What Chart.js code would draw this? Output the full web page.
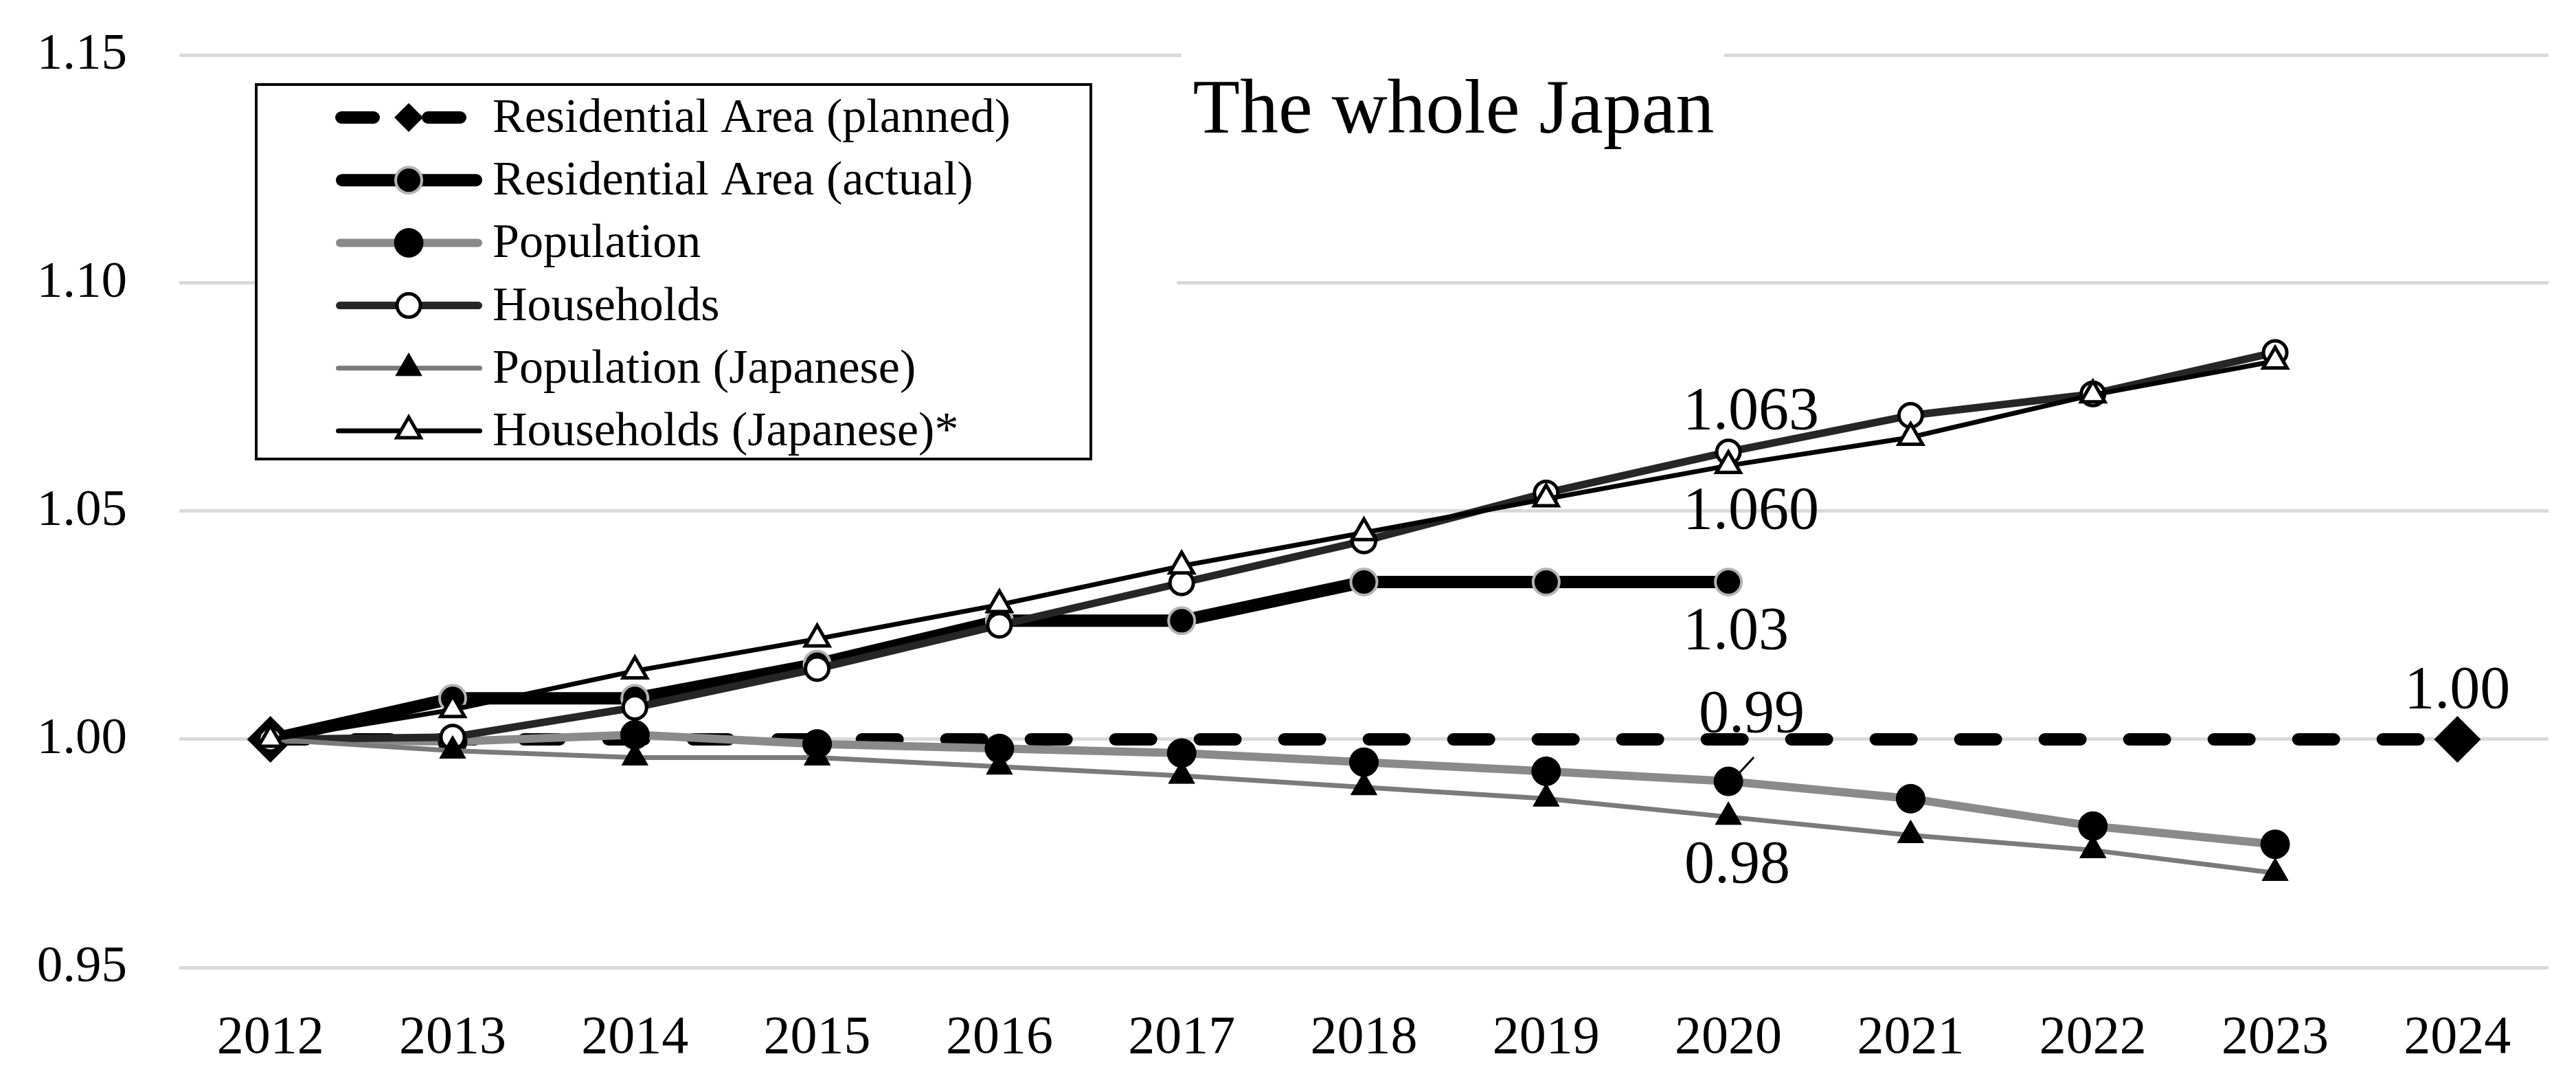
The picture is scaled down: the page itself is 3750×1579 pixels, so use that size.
<!DOCTYPE html>
<html><head><meta charset="utf-8">
<script src="https://cdn.jsdelivr.net/npm/chart.js@4/dist/chart.umd.min.js"></script>
<style>html,body{margin:0;padding:0;background:#fff;}#wrap{width:3750px;height:1579px;}</style>
</head><body><div id="wrap"><canvas id="c" width="3750" height="1579"></canvas></div>
<script>
// ---------- DATA ----------
const years = ['2012','2013','2014','2015','2016','2017','2018','2019','2020','2021','2022','2023','2024'];
const residentialPlanned = [1.000, null, null, null, null, null, null, null, null, null, null, null, 1.000];
const residentialActual  = [1.000, 1.009, 1.009, 1.0165, 1.026, 1.026, 1.0345, 1.0345, 1.0345, null, null, null, null];
const population         = [1.000, 0.9995, 1.001, 0.999, 0.998, 0.997, 0.995, 0.993, 0.9908, 0.987, 0.981, 0.977, null];
const households         = [1.000, 1.0005, 1.007, 1.0155, 1.025, 1.0343, 1.0435, 1.054, 1.063, 1.071, 1.0757, 1.0848, null];
const populationJapanese = [1.000, 0.9975, 0.996, 0.996, 0.994, 0.992, 0.9895, 0.987, 0.983, 0.979, 0.9757, 0.9707, null];
const householdsJapanese = [1.000, 1.0065, 1.015, 1.022, 1.0295, 1.038, 1.0453, 1.0527, 1.060, 1.0662, 1.0755, 1.0829, null];
const yTicks = [0.95, 1.00, 1.05, 1.10, 1.15];
const seriesNames = ['Residential Area (planned)', 'Residential Area (actual)', 'Population', 'Households', 'Population (Japanese)', 'Households (Japanese)*'];
const chartTitle = 'The whole Japan';
const valueLabelTexts  = ['1.063', '1.060', '1.03', '0.99', '0.98', '1.00'];
const valueLabelSeries = [3, 5, 1, 2, 4, 0];
const valueLabelYear   = ['2020', '2020', '2020', '2020', '2020', '2024'];

// ---------- STYLE ----------
const FONT = "'Liberation Serif','Times New Roman',serif";
Chart.defaults.font.family = FONT;
Chart.defaults.color = '#000';

// label placement offsets (style only)
const labelPlace = [
  {dx:-66, dy:-34, align:'left'},
  {dx:-66, dy:91, align:'left'},
  {dx:-66, dy:97, align:'left'},
  {dx:-43, dy:-72, align:'left'},
  {dx:-64, dy:95, align:'left'},
  {dx:0, dy:-46, align:'center'}
];

const annotPlugin = {
  id: 'valueLabels',
  afterDatasetsDraw(chart) {
    const ctx = chart.ctx, xs = chart.scales.x, ys = chart.scales.y;
    ctx.save();
    ctx.fillStyle = '#000';
    ctx.font = '88px ' + FONT;
    ctx.textBaseline = 'alphabetic';
    valueLabelTexts.forEach((t, i) => {
      const idx = years.indexOf(valueLabelYear[i]);
      const ds = chart.data.datasets[valueLabelSeries[i]];
      const px = xs.getPixelForValue(idx);
      const py = ys.getPixelForValue(ds.data[idx]);
      const p = labelPlace[i];
      ctx.textAlign = p.align;
      ctx.fillText(t, px + p.dx, py + p.dy);
      if (t === '0.99') {
        ctx.strokeStyle = '#000'; ctx.lineWidth = 3;
        ctx.beginPath(); ctx.moveTo(px + 37, py - 35); ctx.lineTo(px + 13, py - 9); ctx.stroke();
      }
    });
    ctx.restore();
  }
};

const titlePlugin = {
  id: 'boxTitle',
  afterDraw(chart) {
    const ctx = chart.ctx;
    ctx.save();
    ctx.fillStyle = '#fff';
    ctx.fillRect(1720, 40, 790, 200);
    ctx.fillStyle = '#000';
    ctx.font = '112px ' + FONT;
    ctx.textAlign = 'center';
    ctx.textBaseline = 'alphabetic';
    ctx.fillText(chartTitle, 2116, 193);
    ctx.restore();
  }
};

function legendMarker(ctx, style, x, y, r) {
  ctx.beginPath();
  if (style === 'circle') {
    ctx.arc(x, y, r, 0, Math.PI * 2);
  } else if (style === 'triangle') {
    ctx.moveTo(x, y - r);
    ctx.lineTo(x + 0.866 * r, y + 0.5 * r);
    ctx.lineTo(x - 0.866 * r, y + 0.5 * r);
  } else if (style === 'rectRot') {
    ctx.moveTo(x, y - r); ctx.lineTo(x + r, y); ctx.lineTo(x, y + r); ctx.lineTo(x - r, y);
  }
  ctx.closePath();
}

const legendPlugin = {
  id: 'boxLegend',
  afterDraw(chart) {
    const ctx = chart.ctx;
    ctx.save();
    ctx.fillStyle = '#fff';
    ctx.fillRect(373, 123, 1340, 545);
    ctx.lineWidth = 4; ctx.strokeStyle = '#000';
    ctx.strokeRect(373, 123, 1215, 545);
    const rowY0 = 171, dy = 91.2, mx = 595;
    chart.data.datasets.forEach((ds, i) => {
      const y = rowY0 + i * dy;
      ctx.save();
      ctx.strokeStyle = ds.borderColor; ctx.lineWidth = ds.borderWidth; ctx.lineCap = 'round';
      ctx.beginPath();
      if (ds.borderDash) {
        ctx.setLineDash([47, 79]);
        ctx.moveTo(497, y); ctx.lineTo(680, y);
      } else {
        ctx.moveTo(489 + ds.borderWidth / 2, y); ctx.lineTo(702 - ds.borderWidth / 2, y);
      }
      ctx.stroke();
      ctx.restore();
      ctx.save();
      const r = ds.pointStyle === 'rectRot' ? 21 : ds.pointRadius;
      legendMarker(ctx, ds.pointStyle, mx, y, r);
      ctx.fillStyle = ds.pointBackgroundColor; ctx.fill();
      if (ds.pointBorderWidth > 0) { ctx.lineWidth = ds.pointBorderWidth; ctx.strokeStyle = ds.pointBorderColor; ctx.stroke(); }
      ctx.restore();
      ctx.fillStyle = '#000';
      ctx.font = '70px ' + FONT;
      ctx.textAlign = 'left'; ctx.textBaseline = 'alphabetic';
      ctx.fillText(ds.label, 717, y + 21);
    });
    ctx.restore();
  }
};

const ctx = document.getElementById('c').getContext('2d');
new Chart(ctx, {
  type: 'line',
  data: {
    labels: years,
    datasets: [
      {label: seriesNames[0], data: residentialPlanned, borderColor: '#000', borderWidth: 18, borderDash: [52, 71], borderCapStyle: 'round', spanGaps: true,
       pointStyle: 'rectRot', pointRadius: 34, pointBackgroundColor: '#000', pointBorderColor: '#000', pointBorderWidth: 0, order: 6},
      {label: seriesNames[1], data: residentialActual, borderColor: '#000', borderWidth: 18, borderCapStyle: 'round',
       pointStyle: 'circle', pointRadius: 19, pointBackgroundColor: '#000', pointBorderColor: '#b4b4b4', pointBorderWidth: 4, order: 5},
      {label: seriesNames[2], data: population, borderColor: '#8a8a8a', borderWidth: 12,
       pointStyle: 'circle', pointRadius: 21, pointBackgroundColor: '#000', pointBorderColor: '#000', pointBorderWidth: 1, order: 4},
      {label: seriesNames[3], data: households, borderColor: '#262626', borderWidth: 11,
       pointStyle: 'circle', pointRadius: 17, pointBackgroundColor: '#fff', pointBorderColor: '#000', pointBorderWidth: 5, order: 3},
      {label: seriesNames[4], data: populationJapanese, borderColor: '#7a7a7a', borderWidth: 7,
       pointStyle: 'triangle', pointRadius: 22, pointBackgroundColor: '#000', pointBorderColor: '#000', pointBorderWidth: 1, order: 2},
      {label: seriesNames[5], data: householdsJapanese, borderColor: '#000', borderWidth: 7,
       pointStyle: 'triangle', pointRadius: 20, pointBackgroundColor: '#fff', pointBorderColor: '#000', pointBorderWidth: 5, order: 1}
    ]
  },
  options: {
    responsive: false, animation: false, devicePixelRatio: 1,
    layout: {padding: {left: 0, right: 40, top: 80, bottom: 0}},
    plugins: {legend: {display: false}, tooltip: {enabled: false}, title: {display: false}},
    elements: {line: {tension: 0, borderJoinStyle: 'round'}},
    scales: {
      x: {
        type: 'category', offset: true,
        grid: {display: false, drawTicks: false}, border: {display: false},
        ticks: {font: {size: 78}, padding: 57, color: '#000', maxRotation: 0, autoSkip: false},
        afterFit(s) { s.height = 171; s.paddingLeft = 0; s.paddingRight = 0; }
      },
      y: {
        min: 0.95, max: 1.15,
        afterBuildTicks(s) { s.ticks = yTicks.map(v => ({value: v})); },
        grid: {color: '#d9d9d9', lineWidth: 5, drawTicks: false}, border: {display: false},
        ticks: {font: {size: 75}, padding: 76, color: '#000', callback: v => Number(v).toFixed(2)},
        afterFit(s) { s.width = 261; s.paddingTop = 0; s.paddingBottom = 0; }
      }
    }
  },
  plugins: [annotPlugin, titlePlugin, legendPlugin]
});
</script></body></html>
